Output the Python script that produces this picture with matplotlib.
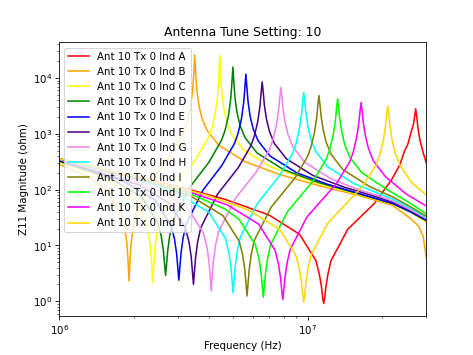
import numpy as np
from matplotlib import pyplot as plt

# frequency in MHz, magnitude in ohm
freq_a = [1.0, 2.0, 3.48, 4.64, 6.96, 9.28, 10.79, 11.14, 11.37, 11.48, 11.6, 11.72, 11.83, 12.06, 12.41, 14.5, 18.5, 21.76, 23.5, 24.48, 25.3, 26.11, 26.66, 26.93, 27.2, 27.47, 27.74, 28.29, 28.6, 29.2, 30.0]
mag_a = [358, 176, 95.7, 67.1, 35.4, 15.8, 5.35, 3.04, 1.77, 1.19, 0.91, 1.19, 1.77, 3.03, 5.31, 19.5, 55.9, 150, 280, 480, 650, 1100, 1500, 2030, 2800, 2049, 1333, 770, 640, 450, 300]

freq_b = [1.0, 1.3, 1.53, 1.776, 1.834, 1.872, 1.891, 1.91, 1.929, 1.948, 1.986, 2.044, 2.388, 2.81, 3.159, 3.264, 3.37, 3.44, 3.475, 3.51, 3.545, 3.58, 3.65, 3.756, 3.931, 4.388, 5.616, 7.72, 11.0, 16.0, 22.0, 26.0, 28.0, 29.2, 30.0]
mag_b = [284, 172, 105, 36.8, 21.2, 10.9, 5.81, 2.3, 5.84, 11.0, 21.8, 38.6, 158, 414, 1041, 1568, 2879, 5780, 10919, 26000, 11162, 6080, 3208, 1897, 1165, 624, 314, 186, 119, 78.7, 52, 30, 22, 14, 6]

freq_c = [1.0, 1.43, 1.904, 2.213, 2.285, 2.332, 2.356, 2.38, 2.404, 2.428, 2.475, 2.547, 2.975, 3.544, 3.987, 4.12, 4.253, 4.341, 4.386, 4.43, 4.474, 4.519, 4.607, 4.74, 4.962, 5.538, 7.088, 11.0, 16.0, 22.0, 26.0, 30.0]
mag_c = [312, 180, 83.5, 29.3, 16.8, 8.72, 4.75, 2.13, 4.78, 8.82, 17.3, 30.6, 124, 344, 858, 1291, 2366, 4783, 9184, 25000, 9396, 5032, 2630, 1555, 954, 510, 256, 129, 82.6, 55.5, 39, 26]

freq_d = [1.0, 1.608, 2.144, 2.492, 2.573, 2.626, 2.653, 2.68, 2.707, 2.734, 2.787, 2.868, 3.35, 4.0, 4.5, 4.65, 4.8, 4.9, 4.95, 5.0, 5.05, 5.1, 5.2, 5.35, 5.6, 6.25, 8.0, 11.0, 16.0, 22.0, 26.0, 30.0]
mag_d = [323, 160, 74.1, 26.0, 14.9, 8.04, 4.75, 2.9, 4.77, 8.12, 15.3, 27.1, 110, 307, 766, 1152, 2113, 4190, 7689, 15700, 7841, 4397, 2347, 1386, 851, 455, 228, 135, 84.4, 56.2, 39.6, 28]

freq_e = [1.0, 1.818, 2.424, 2.818, 2.909, 2.969, 3.0, 3.03, 3.06, 3.091, 3.151, 3.242, 3.788, 4.512, 5.076, 5.245, 5.414, 5.527, 5.584, 5.64, 5.696, 5.753, 5.866, 6.035, 6.317, 7.05, 9.024, 12.0, 16.0, 22.0, 26.0, 30.0]
mag_e = [331, 141, 65.6, 23.0, 13.2, 7.06, 4.09, 2.38, 4.11, 7.14, 13.6, 24.0, 97.4, 270, 674, 1015, 1858, 3638, 6465, 11700, 6584, 3815, 2065, 1222, 749, 401, 201, 125, 85.8, 56.5, 39.7, 28]

freq_f = [1.0, 2.082, 2.776, 3.227, 3.331, 3.401, 3.435, 3.47, 3.505, 3.539, 3.609, 3.713, 4.338, 5.248, 5.904, 6.101, 6.298, 6.429, 6.494, 6.56, 6.626, 6.691, 6.822, 7.019, 7.347, 8.2, 10.5, 14.0, 18.0, 22.0, 26.0, 30.0]
mag_f = [338, 123, 56.9, 19.9, 11.4, 6.07, 3.5, 2.0, 3.52, 6.13, 11.7, 20.7, 83.0, 245, 608, 913, 1671, 3190, 5389, 8500, 5470, 3331, 1852, 1095, 670, 358, 179, 111, 79.4, 59.5, 41.5, 29.3]

freq_g = [1.0, 1.636, 2.454, 3.272, 3.804, 3.926, 4.008, 4.049, 4.09, 4.131, 4.172, 4.254, 4.376, 5.113, 6.24, 7.02, 7.254, 7.488, 7.644, 7.722, 7.8, 7.878, 7.956, 8.112, 8.346, 8.736, 9.75, 12.48, 16.0, 19.0, 22.0, 26.0, 30.0]
mag_g = [344, 193, 104, 48.1, 16.8, 9.63, 5.07, 2.86, 1.53, 2.87, 5.12, 9.83, 17.4, 69.4, 213, 525, 788, 1442, 2714, 4488, 6750, 4551, 2831, 1596, 942, 577, 307, 154, 100, 79.0, 62.4, 43.2, 30.3]

freq_h = [1.0, 2.004, 3.006, 4.008, 4.659, 4.81, 4.91, 4.96, 5.01, 5.06, 5.11, 5.21, 5.361, 6.263, 7.712, 8.676, 8.965, 9.254, 9.447, 9.544, 9.64, 9.736, 9.833, 10.03, 10.31, 10.8, 12.05, 15.42, 19.0, 22.0, 26.0, 30.0]
mag_h = [350, 158, 84.9, 39.1, 13.6, 7.81, 4.17, 2.42, 1.41, 2.43, 4.20, 7.97, 14.1, 55.9, 178, 437, 655, 1197, 2246, 3692, 5500, 3743, 2339, 1322, 780, 478, 254, 127, 87.9, 67.5, 45.8, 31.8]

freq_i = [1.0, 2.28, 3.42, 4.56, 5.301, 5.472, 5.586, 5.643, 5.70, 5.757, 5.814, 5.928, 6.099, 7.125, 8.88, 9.99, 10.32, 10.66, 10.88, 10.99, 11.1, 11.21, 11.32, 11.54, 11.88, 12.43, 13.88, 17.76, 22.0, 26.0, 30.0]
mag_i = [352, 139, 74.4, 34.2, 11.9, 6.81, 3.64, 2.11, 1.24, 2.12, 3.66, 6.93, 12.3, 48.3, 161, 393, 588, 1075, 2010, 3287, 4850, 3330, 2091, 1185, 699, 428, 227, 113, 73.8, 48.9, 33.5]

freq_j = [1.0, 2.0, 3.315, 4.641, 5.304, 6.166, 6.365, 6.497, 6.564, 6.63, 6.696, 6.763, 6.895, 7.094, 8.288, 10.56, 11.88, 12.28, 12.67, 12.94, 13.07, 13.2, 13.33, 13.46, 13.73, 14.12, 14.78, 16.5, 21.12, 25.0, 30.0]
mag_j = [354, 168, 86.9, 45.1, 29.1, 10.1, 5.78, 3.13, 1.87, 1.18, 1.87, 3.15, 5.86, 10.3, 40.3, 146, 353, 527, 961, 1789, 2904, 4230, 2940, 1857, 1056, 622, 380, 201, 97, 62.6, 37]

freq_k = [1.0, 2.0, 3.176, 4.764, 6.352, 7.384, 7.622, 7.781, 7.861, 7.94, 8.019, 8.099, 8.258, 8.496, 9.925, 11.5, 13.12, 14.76, 15.25, 15.74, 16.07, 16.24, 16.4, 16.56, 16.73, 17.06, 17.55, 18.37, 20.5, 25.0, 30.0]
mag_k = [356, 171, 98.9, 52.8, 24.0, 8.26, 4.72, 2.59, 1.59, 1.07, 1.6, 2.61, 4.77, 8.39, 32.2, 67.8, 132, 315, 470, 855, 1577, 2535, 3630, 2565, 1636, 934, 550, 330, 173, 82.4, 51]

freq_l = [1.0, 2.0, 3.856, 5.784, 7.712, 8.965, 9.254, 9.447, 9.544, 9.64, 9.736, 9.833, 10.03, 10.31, 12.05, 14.2, 16.8, 18.9, 19.53, 20.16, 20.58, 20.79, 21.0, 21.21, 21.42, 21.84, 22.47, 23.52, 26.25, 30.0]
mag_l = [357, 174, 81.2, 43.1, 19.4, 6.63, 3.79, 2.13, 1.35, 0.97, 1.36, 2.13, 3.79, 6.67, 25.1, 54.6, 121, 285, 424, 768, 1405, 2229, 3130, 2251, 1451, 792, 466, 274, 133, 80]

inductors = ['A', 'B', 'C', 'D', 'E', 'F', 'G', 'H', 'I', 'J', 'K', 'L']
colors = ['red', 'orange', 'yellow', 'green', 'blue', 'indigo',
          'violet', 'cyan', 'olive', 'lime', 'magenta', 'gold']
freqs = [freq_a, freq_b, freq_c, freq_d, freq_e, freq_f,
         freq_g, freq_h, freq_i, freq_j, freq_k, freq_l]
mags = [mag_a, mag_b, mag_c, mag_d, mag_e, mag_f,
        mag_g, mag_h, mag_i, mag_j, mag_k, mag_l]

plt.figure(figsize=(6.4, 4.8))
for ind, col, f, m in zip(inductors, colors, freqs, mags):
    plt.loglog(np.array(f) * 1e6, m, color=col, label='Ant 10 Tx 0 Ind ' + ind)

plt.xlim(1e6, 3e7)
plt.title('Antenna Tune Setting: 10')
plt.xlabel('Frequency (Hz)')
plt.ylabel('Z11 Magnitude (ohm)')
plt.legend(loc='upper left')
plt.savefig('out.png', dpi=74)
